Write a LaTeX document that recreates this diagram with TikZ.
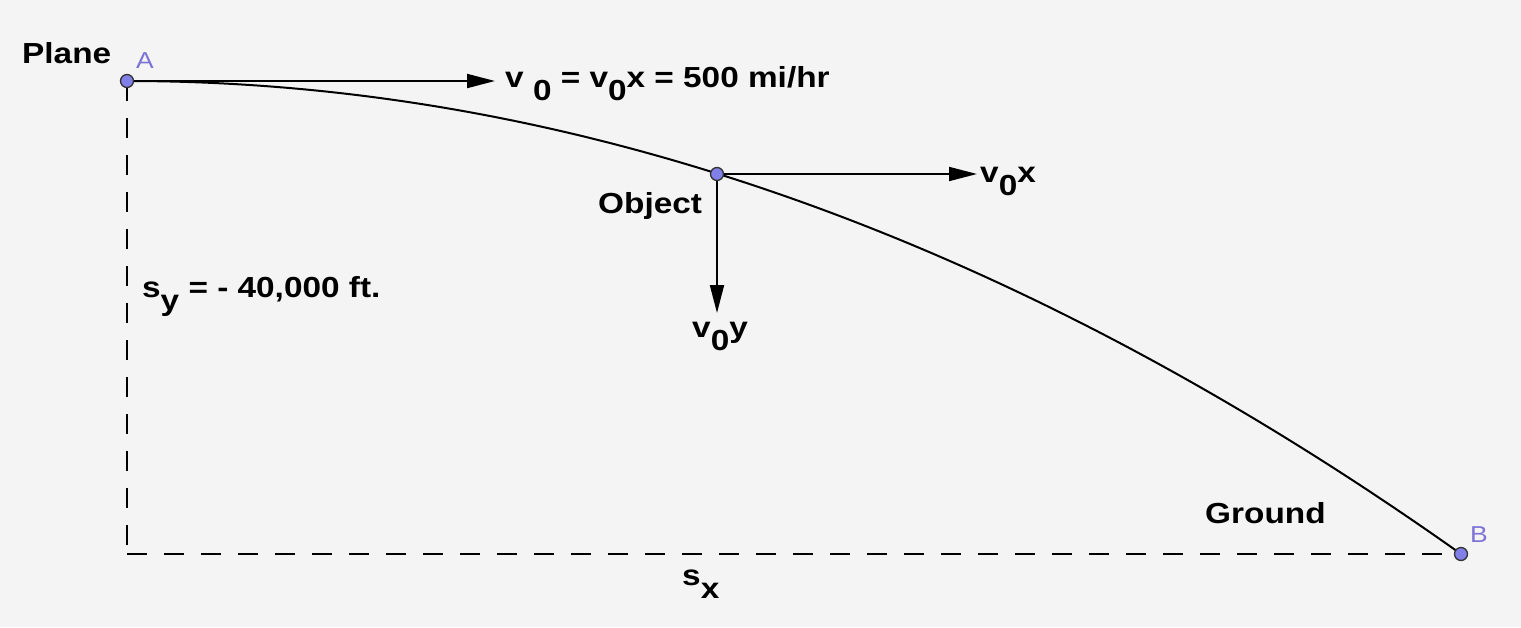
\documentclass[tikz,border=0pt]{standalone}
\usepackage{fontspec}
\setmainfont{Liberation Sans}[FakeStretch=1.15]
\usetikzlibrary{arrows.meta}

\definecolor{bgcol}{RGB}{244,244,244}
\definecolor{ptfill}{RGB}{128,128,232}
\definecolor{ptlabel}{RGB}{125,115,215}
\newcommand{\lowsub}[1]{\raisebox{-0.45em}{#1}}

\tikzset{
  pt/.style={circle, draw=black!80, fill=ptfill, line width=1.3pt, minimum size=13pt, inner sep=0pt},
  vec/.style={line width=1.9pt, -{Triangle[length=28pt, width=14pt]}},
  trajectory/.style={line width=2pt},
  guide/.style={line width=1.9pt, dash pattern=on 20pt off 17pt},
  lbl/.style={font=\bfseries\fontsize{29}{34}\selectfont, inner sep=0pt, anchor=base west},
  ptname/.style={text=ptlabel, font=\fontsize{23}{27}\selectfont, inner sep=0pt, anchor=base west},
}

\begin{document}
\begin{tikzpicture}[x=1pt, y=-1pt]
  \useasboundingbox[fill=bgcol] (0,0) rectangle (1521,627);

  % points on the path
  \coordinate (A) at (127,81);
  \coordinate (O) at (717,174);
  \coordinate (B) at (1461,554);
  \coordinate (C) at (127,554);

  % arrow ends
  \coordinate (Aend) at (495,81);
  \coordinate (Oxend) at (977,174);
  \coordinate (Oyend) at (717,313);

  % dashed guides
  \draw[guide] (A) -- (C);
  \draw[guide] (C) -- (B);

  % the trajectory
  \draw[trajectory] (A) .. controls (571.7,81) and (1016.3,238.7) .. (B);

  % velocity vectors
  \draw[vec] (A) -- (Aend);
  \draw[vec] (O) -- (Oxend);
  \draw[vec] (O) -- (Oyend);

  % the dots
  \node[pt] (Adot) at (A) {};
  \node[pt] (Odot) at (O) {};
  \node[pt] (Bdot) at (B) {};

  % labels
  \node[lbl] (plane) at (22,63) {Plane};
  \node[ptname] (Aname) at (136,68) {A};
  \node[lbl] (v0) at (505,87) {v \lowsub{0} = v\lowsub{0}x = 500 mi/hr};
  \node[lbl] (v0x) at (980,182) {v\lowsub{0}x};
  \node[lbl] (obj) at (598,213) {Object};
  \node[lbl] (v0y) at (692,337) {v\lowsub{0}y};
  \node[lbl] (sy) at (142,297) {s\lowsub{y} = - 40,000 ft.};
  \node[lbl] (ground) at (1205,523) {Ground};
  \node[ptname] (Bname) at (1470,542) {B};
  \node[lbl] (sx) at (682,585) {s\lowsub{x}};
\end{tikzpicture}
\end{document}
